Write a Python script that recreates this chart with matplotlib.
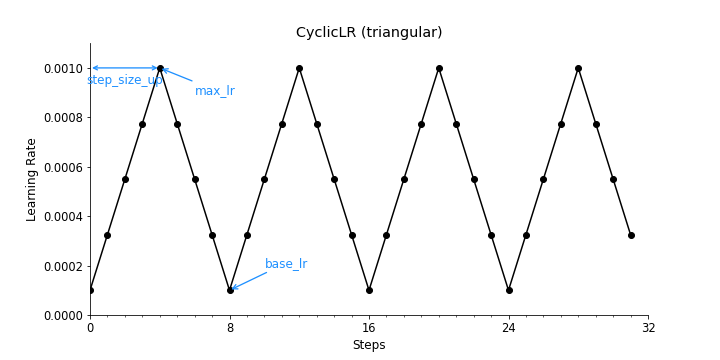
import matplotlib
matplotlib.use("Agg")
import matplotlib.pyplot as plt
from matplotlib.ticker import MultipleLocator, FormatStrFormatter

steps = list(range(32))
lrs = [0.0001, 0.000325, 0.00055, 0.000775, 0.001, 0.000775, 0.00055, 0.000325,
       0.0001, 0.000325, 0.00055, 0.000775, 0.001, 0.000775, 0.00055, 0.000325,
       0.0001, 0.000325, 0.00055, 0.000775, 0.001, 0.000775, 0.00055, 0.000325,
       0.0001, 0.000325, 0.00055, 0.000775, 0.001, 0.000775, 0.00055, 0.000325]
xticks = [0, 8, 16, 24, 32]
yticks = [0.0, 0.0002, 0.0004, 0.0006, 0.0008, 0.0010]

blue = "#1E90FF"
fig, ax = plt.subplots(figsize=(10, 5), dpi=72)
fig.subplots_adjust(left=0.125, right=0.9, top=0.88, bottom=0.125)
ax.plot(steps, lrs, color="black", marker="o", markersize=6, linewidth=1.5)
ax.set_xlim(0, 32)
ax.set_ylim(0, 0.0011)
ax.set_xticks(xticks)
ax.xaxis.set_minor_locator(MultipleLocator(1))
ax.set_yticks(yticks)
ax.yaxis.set_major_formatter(FormatStrFormatter("%.4f"))
ax.spines["top"].set_visible(False)
ax.spines["right"].set_visible(False)
ax.set_title("CyclicLR (triangular)", fontsize=14.4)
ax.set_xlabel("Steps", fontsize=12)
ax.set_ylabel("Learning Rate", fontsize=12)
ax.tick_params(labelsize=11.5)

ax.annotate("", xy=(0, 0.001), xytext=(4, 0.001),
            arrowprops=dict(arrowstyle="<->", color=blue, lw=1.3))
ax.text(2, 0.00095, "step_size_up", color=blue, ha="center", va="center", fontsize=12)
ax.annotate("max_lr", xy=(4, 0.001), xytext=(6, 0.00091), color=blue, fontsize=12,
            va="center", arrowprops=dict(arrowstyle="->", color=blue, lw=1.3))
ax.annotate("base_lr", xy=(8, 0.0001), xytext=(10, 0.00021), color=blue, fontsize=12,
            va="center", arrowprops=dict(arrowstyle="->", color=blue, lw=1.3))

fig.savefig("out.png")
